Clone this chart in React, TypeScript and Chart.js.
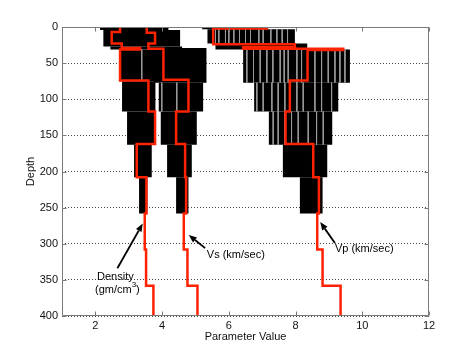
import React, { useEffect, useRef } from 'react';
import { Chart, registerables } from 'chart.js';

Chart.register(...registerables);

// ---- axes ----
const X_MIN = 1;
const X_MAX = 12;
const X_TICKS = [2, 4, 6, 8, 10, 12];
const DEPTH_MIN = 0;
const DEPTH_MAX = 400;
const DEPTH_TICKS = [0, 50, 100, 150, 200, 250, 300, 350, 400];

// ---- red model profiles (layer top depth, value) ----
const densityTops = [0, 7, 23, 29, 31, 74, 117, 162, 208, 258, 308, 358];
const densityVals = [2.74, 2.49, 2.79, 3.34, 2.74, 3.59, 3.79, 3.24, 3.53, 3.48, 3.52, 3.74];

const vsTops = [0, 8, 23, 30, 73, 117, 162, 208, 258, 308, 358];
const vsVals = [3.54, 3.79, 3.59, 4.04, 4.79, 4.42, 4.69, 4.72, 4.65, 4.76, 5.06];

const vpTops = [0, 2, 24, 28, 30, 32, 74, 117, 162, 208, 258, 308, 358];
const vpVals = [7.14, 5.53, 7.98, 6.43, 9.43, 8.36, 7.83, 7.7, 8.53, 8.7, 8.65, 8.81, 9.35];

// ---- black ensemble ranges per layer ----
const densityBlockTop = [0, 4, 27, 31, 75, 117, 163, 208];
const densityBlockBottom = [4, 27, 31, 75, 117, 163, 208, 258];
const densityBlockMin = [2.14, 2.24, 2.45, 2.73, 2.8, 2.95, 3.16, 3.31];
const densityBlockMax = [3.6, 3.6, 3.6, 3.8, 3.8, 3.79, 3.69, 3.56];

const vsBlockTop = [0, 4, 27, 29, 77, 117, 163, 208];
const vsBlockBottom = [4, 27, 31, 77, 117, 163, 208, 258];
const vsBlockMin = [3.5, 3.5, 3.6, 3.75, 3.9, 3.96, 4.15, 4.42];
const vsBlockMax = [4.19, 4.54, 4.6, 5.33, 5.23, 5.04, 4.89, 4.79];

const vpBlockTop = [0, 3, 23, 31, 77, 117, 163, 208];
const vpBlockBottom = [3, 23, 31, 77, 117, 163, 208, 258];
const vpBlockMin = [5.2, 5.36, 5.6, 6.43, 6.76, 7.2, 7.62, 8.13];
const vpBlockMax = [7.14, 7.98, 8.35, 9.63, 9.28, 9.1, 8.95, 8.81];

// ---- light individual-model lines visible inside the black ranges ----
const vpStripes3to23 = [5.6, 5.7, 5.9, 6.0, 6.15, 6.32, 6.5, 6.65, 6.9, 7.03, 7.26, 7.44, 7.6, 7.76];
const vpStripes31to77 = [6.54, 6.74, 6.94, 7.14, 7.32, 7.54, 7.66, 7.78, 8.04, 8.18, 8.58, 8.78, 8.98, 9.18, 9.33, 9.48];
const vpStripes77to117 = [6.84, 7.03, 7.29, 7.48, 7.68, 8.04, 8.23, 8.58, 8.78, 9.08];
const vpStripes117to163 = [7.33, 7.48, 7.68, 7.88, 8.08, 8.38, 8.63, 8.83];
const densityStripes31to75 = [3.39];
const vsStripes77to117 = [3.99, 4.44];

const RED = '#ff2200';
const FONT = '"Liberation Sans", Arial, sans-serif';

function stepPath(tops: number[], vals: number[]) {
  const pts: any[] = [];
  for (let i = 0; i < tops.length; i++) {
    const bottom = i + 1 < tops.length ? tops[i + 1] : DEPTH_MAX;
    pts.push({ x: vals[i], y: tops[i] }, { x: vals[i], y: bottom });
  }
  return pts;
}

function blockDatasets(tops: number[], bottoms: number[], mins: number[], maxs: number[]) {
  return tops.map((t, i) => ({
    data: [
      { x: mins[i], y: t },
      { x: maxs[i], y: t },
      { x: maxs[i], y: bottoms[i] },
      { x: mins[i], y: bottoms[i] },
    ],
    borderWidth: 0,
    pointRadius: 0,
    fill: 'shape',
    backgroundColor: '#000000',
    borderColor: '#000000',
    order: 3,
  }));
}

function stripeDataset(top: number, bottom: number, xs: number[]) {
  const pts: any[] = [];
  xs.forEach((x) => {
    pts.push({ x, y: top }, { x, y: bottom }, { x: null, y: null });
  });
  return {
    data: pts,
    borderColor: '#9a9a9a',
    borderWidth: 1,
    pointRadius: 0,
    fill: false,
    spanGaps: false,
    order: 2,
  };
}

function redDataset(tops: number[], vals: number[]) {
  return {
    data: stepPath(tops, vals),
    borderColor: RED,
    borderWidth: 2.5,
    pointRadius: 0,
    fill: false,
    borderJoinStyle: 'miter',
    order: 0,
  };
}

function arrow(ctx: CanvasRenderingContext2D, x1: number, y1: number, x2: number, y2: number) {
  const ang = Math.atan2(y2 - y1, x2 - x1);
  const len = 8;
  const hw = 3.2;
  const bx = x2 - len * Math.cos(ang);
  const by = y2 - len * Math.sin(ang);
  ctx.beginPath();
  ctx.moveTo(x1, y1);
  ctx.lineTo(bx, by);
  ctx.stroke();
  ctx.beginPath();
  ctx.moveTo(x2, y2);
  ctx.lineTo(bx + hw * Math.sin(ang), by - hw * Math.cos(ang));
  ctx.lineTo(bx - hw * Math.sin(ang), by + hw * Math.cos(ang));
  ctx.closePath();
  ctx.fill();
}

const overlayPlugin = {
  id: 'overlay',
  afterDatasetsDraw(chart: any) {
    const { ctx, scales } = chart;
    const X = (v: number) => scales.x.getPixelForValue(v);
    const Y = (v: number) => scales.y.getPixelForValue(v);
    ctx.save();
    ctx.strokeStyle = '#000';
    ctx.fillStyle = '#000';
    ctx.lineWidth = 1.8;
    arrow(ctx, X(2.66), Y(334), X(3.42), Y(272));
    arrow(ctx, X(5.29), Y(306), X(4.8), Y(288));
    arrow(ctx, X(9.18), Y(299), X(8.74), Y(270));

    ctx.font = `11px ${FONT}`;
    ctx.textBaseline = 'middle';
    ctx.textAlign = 'center';
    ctx.fillText('Density', X(2.6), Y(346));
    // (gm/cm³)
    const a = '(gm/cm';
    const b = ')';
    ctx.font = `11px ${FONT}`;
    const wa = ctx.measureText(a).width;
    const wb = ctx.measureText(b).width;
    ctx.font = `8px ${FONT}`;
    const ws = ctx.measureText('3').width;
    const total = wa + ws + wb;
    const cx = X(2.66);
    const cy = Y(364);
    const x0 = cx - total / 2;
    ctx.textAlign = 'left';
    ctx.font = `11px ${FONT}`;
    ctx.fillText(a, x0, cy);
    ctx.font = `8px ${FONT}`;
    ctx.fillText('3', x0 + wa, cy - 5);
    ctx.font = `11px ${FONT}`;
    ctx.fillText(b, x0 + wa + ws, cy);

    ctx.fillText('Vs (km/sec)', X(5.34), Y(316));
    ctx.fillText('Vp (km/sec)', X(9.18), Y(307));
    ctx.restore();
  },
  afterDraw(chart: any) {
    const { ctx, chartArea: a, scales } = chart;
    ctx.save();
    ctx.strokeStyle = '#7a7a7a';
    ctx.lineWidth = 1;
    ctx.beginPath();
    const L = Math.round(a.left) + 0.5;
    const R = Math.round(a.right) - 0.5;
    const T = Math.round(a.top) + 0.5;
    const B = Math.round(a.bottom) - 0.5;
    ctx.rect(L, T, R - L, B - T);
    X_TICKS.forEach((v) => {
      const px = Math.round(scales.x.getPixelForValue(v)) + 0.5;
      ctx.moveTo(px, B);
      ctx.lineTo(px, B - 4);
      ctx.moveTo(px, T);
      ctx.lineTo(px, T + 4);
    });
    DEPTH_TICKS.forEach((v) => {
      const py = Math.round(scales.y.getPixelForValue(v)) + 0.5;
      ctx.moveTo(L, py);
      ctx.lineTo(L + 4, py);
      ctx.moveTo(R, py);
      ctx.lineTo(R - 4, py);
    });
    ctx.stroke();
    ctx.restore();
  },
};

export default function App() {
  const ref = useRef<HTMLCanvasElement>(null);
  useEffect(() => {
    if (!ref.current) return;
    const datasets: any[] = [
      redDataset(densityTops, densityVals),
      redDataset(vsTops, vsVals),
      redDataset(vpTops, vpVals),
      stripeDataset(3, 23, vpStripes3to23),
      stripeDataset(31, 77, vpStripes31to77),
      stripeDataset(77, 117, vpStripes77to117),
      stripeDataset(117, 163, vpStripes117to163),
      stripeDataset(31, 75, densityStripes31to75),
      stripeDataset(77, 117, vsStripes77to117),
      ...blockDatasets(densityBlockTop, densityBlockBottom, densityBlockMin, densityBlockMax),
      ...blockDatasets(vsBlockTop, vsBlockBottom, vsBlockMin, vsBlockMax),
      ...blockDatasets(vpBlockTop, vpBlockBottom, vpBlockMin, vpBlockMax),
    ];
    const chart = new Chart(ref.current, {
      type: 'line',
      data: { datasets },
      options: {
        responsive: false,
        animation: false,
        events: [],
        layout: { padding: { left: 0, right: 45, top: 27, bottom: 0 } },
        plugins: { legend: { display: false }, tooltip: { enabled: false }, title: { display: false } },
        scales: {
          x: {
            type: 'linear',
            min: X_MIN,
            max: X_MAX,
            afterBuildTicks: (s: any) => {
              s.ticks = X_TICKS.map((v) => ({ value: v }));
            },
            afterFit: (s: any) => {
              s.height = 39;
            },
            grid: { display: false, drawTicks: false },
            border: { display: false },
            ticks: {
              autoSkip: false,
              maxRotation: 0,
              padding: 3,
              color: '#111',
              font: { family: FONT, size: 11 },
            },
            title: {
              display: true,
              text: 'Parameter Value',
              color: '#111',
              font: { family: FONT, size: 11 },
              padding: { top: 0, bottom: 11 },
            },
          },
          y: {
            type: 'linear',
            reverse: true,
            min: DEPTH_MIN,
            max: DEPTH_MAX,
            afterBuildTicks: (s: any) => {
              s.ticks = DEPTH_TICKS.map((v) => ({ value: v }));
            },
            afterFit: (s: any) => {
              s.width = 62;
            },
            grid: { display: true, drawTicks: false, color: '#444', lineWidth: 1 },
            border: { display: false, dash: [1, 2] },
            ticks: {
              padding: 4,
              color: '#111',
              font: { family: FONT, size: 11 },
            },
            title: {
              display: true,
              text: 'Depth',
              color: '#111',
              font: { family: FONT, size: 11 },
              padding: { top: 24, bottom: 0 },
            },
          },
        },
      } as any,
      plugins: [overlayPlugin],
    });
    return () => chart.destroy();
  }, []);
  return (
    <div style={{ position: 'absolute', left: 0, top: 0, width: 474, height: 355, background: '#fff' }}>
      <canvas ref={ref} width={474} height={355} />
    </div>
  );
}
